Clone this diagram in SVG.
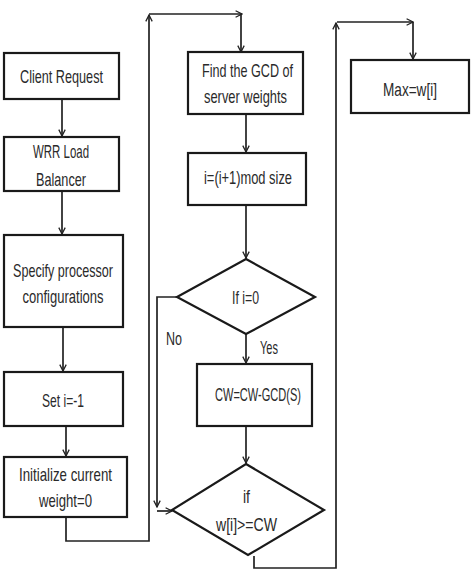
<svg xmlns="http://www.w3.org/2000/svg" width="474" height="578" viewBox="0 0 474 578">
<defs>
<marker id="ah" viewBox="0 0 10 10" refX="9" refY="5" markerWidth="8" markerHeight="8" markerUnits="userSpaceOnUse" orient="auto">
<path d="M1,1 L9,5 L1,9" fill="none" stroke="#222" stroke-width="1.6"/>
</marker>
<style>
.box{fill:#fff;stroke:#1a1a1a;stroke-width:2.2}
.t{font-family:"Liberation Sans",Arial,sans-serif;font-size:18.5px;fill:#2a2a2a;text-anchor:middle}
.c{fill:none;stroke:#222;stroke-width:1.7}
.a{marker-end:url(#ah)}
</style>
</defs>
<rect width="474" height="578" fill="#fff"/>
<g id="connectors">
<path class="c a" d="M62,99 V136"/>
<path class="c a" d="M62,191 V234"/>
<path class="c a" d="M63,327 V371"/>
<path class="c a" d="M66,426 V456"/>
<path class="c a" d="M66,517 V541 H149 V15"/>
<path class="c a" d="M149,14 H242"/>
<path class="c a" d="M241,14 V52"/>
<path class="c a" d="M246,114 V152"/>
<path class="c a" d="M246,205 V258"/>
<path class="c a" d="M177,297 H157 V507"/>
<path class="c a" d="M157,511 H172"/>
<path class="c a" d="M246,334 V363"/>
<path class="c a" d="M246,426 V463"/>
<path class="c a" d="M254,556 V568 H336 V23"/>
<path class="c a" d="M337,22 H413"/>
<path class="c a" d="M413,22 V59"/>
<text class="t" x="174" y="345" textLength="16" lengthAdjust="spacingAndGlyphs">No</text>
<text class="t" x="269" y="354" textLength="18" lengthAdjust="spacingAndGlyphs">Yes</text>
</g>
<g id="client-request">
<rect class="box" x="4" y="53" width="115" height="46"/>
<text class="t" x="61.5" y="83" textLength="83" lengthAdjust="spacingAndGlyphs">Client Request</text>
</g>
<g id="wrr-load-balancer">
<rect class="box" x="4" y="137" width="115" height="54"/>
<text class="t" x="61" y="158" textLength="56" lengthAdjust="spacingAndGlyphs">WRR Load</text>
<text class="t" x="61" y="186" textLength="50" lengthAdjust="spacingAndGlyphs">Balancer</text>
</g>
<g id="specify-processor">
<rect class="box" x="4" y="235" width="119" height="92"/>
<text class="t" x="63" y="277" textLength="100" lengthAdjust="spacingAndGlyphs">Specify processor</text>
<text class="t" x="63" y="303" textLength="81" lengthAdjust="spacingAndGlyphs">configurations</text>
</g>
<g id="set-i">
<rect class="box" x="4" y="372" width="119" height="54"/>
<text class="t" x="63" y="407" textLength="42" lengthAdjust="spacingAndGlyphs">Set i=-1</text>
</g>
<g id="initialize-weight">
<rect class="box" x="4" y="457" width="123" height="60"/>
<text class="t" x="65.5" y="481" textLength="93" lengthAdjust="spacingAndGlyphs">Initialize current</text>
<text class="t" x="65.5" y="507" textLength="53" lengthAdjust="spacingAndGlyphs">weight=0</text>
</g>
<g id="find-gcd">
<rect class="box" x="188" y="52" width="115" height="62"/>
<text class="t" x="247.5" y="77" textLength="91" lengthAdjust="spacingAndGlyphs">Find the GCD of</text>
<text class="t" x="245.5" y="103" textLength="83" lengthAdjust="spacingAndGlyphs">server weights</text>
</g>
<g id="increment-i">
<rect class="box" x="188" y="153" width="118" height="52"/>
<text class="t" x="248" y="184" textLength="88" lengthAdjust="spacingAndGlyphs">i=(i+1)mod size</text>
</g>
<g id="if-i-zero">
<polygon class="box" points="246,259 315,297 246,334 177,297"/>
<text class="t" x="245.5" y="304" textLength="27" lengthAdjust="spacingAndGlyphs">If i=0</text>
</g>
<g id="cw-update">
<rect class="box" x="197" y="364" width="115" height="62"/>
<text class="t" x="258" y="401" textLength="86" lengthAdjust="spacingAndGlyphs">CW=CW-GCD(S)</text>
</g>
<g id="if-w-ge-cw">
<polygon class="box" points="246,464 324,510 248,555 172,510"/>
<text class="t" x="246.5" y="503" textLength="7" lengthAdjust="spacingAndGlyphs">if</text>
<text class="t" x="246.5" y="531" textLength="61" lengthAdjust="spacingAndGlyphs">w[i]&gt;=CW</text>
</g>
<g id="max">
<rect class="box" x="351" y="60" width="118" height="53"/>
<text class="t" x="410" y="96" textLength="54" lengthAdjust="spacingAndGlyphs">Max=w[i]</text>
</g>
</svg>
